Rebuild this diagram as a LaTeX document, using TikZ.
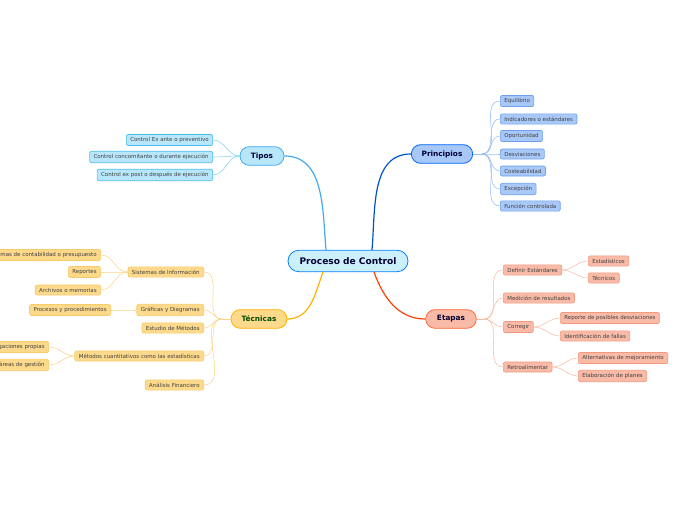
\documentclass[tikz,border=0pt]{standalone}
\usepackage{fontspec}
\setmainfont{DejaVu Sans}
\definecolor{cyF}{HTML}{B8E6FA}\definecolor{cyD}{HTML}{4CBDEB}
\definecolor{blF}{HTML}{A8C8F8}\definecolor{blD}{HTML}{6FA0EE}
\definecolor{ogF}{HTML}{F9BBA8}\definecolor{ogD}{HTML}{F39A7E}
\definecolor{yeF}{HTML}{FDD98C}\definecolor{yeD}{HTML}{F6CB6A}
\begin{document}
\begin{tikzpicture}[x=0.75pt,y=-0.75pt,
  base/.style={draw,rounded corners=1.5pt,line width=0.5pt,font=\fontsize{4.1}{4.6}\selectfont,inner xsep=3pt,inner ysep=2.2pt,text=black!75},
  main/.style={draw,rounded corners=8pt,line width=0.6pt,font=\fontsize{6.8}{8}\selectfont\bfseries,minimum height=16pt,text=black!80!blue},
  cy/.style={base,fill=cyF,draw=cyD},
  bl/.style={base,fill=blF,draw=blD},
  og/.style={base,fill=ogF,draw=ogD},
  ye/.style={base,fill=yeF,draw=yeD},
  lc/.style={cyD!70,line width=0.4pt},
  lb/.style={blD!70,line width=0.4pt},
  lo/.style={ogD!70,line width=0.4pt},
  ly/.style={yeD!80,line width=0.4pt}]
\useasboundingbox (0,0) rectangle (696,520);
\node[main,fill=cyan!20,draw=blue!50!cyan,minimum width=90pt] (c) at (348,261) {Proceso de Control};
\node[main,fill=cyF,draw=cyD!90!blue,minimum width=33pt,minimum height=14pt,rounded corners=7pt,font=\fontsize{5.5}{6}\selectfont\bfseries] (tip) at (262,156) {Tipos};
\node[main,fill=blF,draw=blue!60!cyan,minimum width=46pt,minimum height=14pt,rounded corners=7pt,font=\fontsize{5.5}{6}\selectfont\bfseries] (pri) at (442,154) {Principios};
\node[main,fill=ogF,draw=orange!50!red!80,minimum width=38pt,minimum height=14pt,rounded corners=7pt,font=\fontsize{5.5}{6}\selectfont\bfseries] (eta) at (451,319) {Etapas};
\node[main,fill=yeF,draw=orange!60!yellow,minimum width=42pt,minimum height=14pt,rounded corners=7pt,font=\fontsize{5.5}{6}\selectfont\bfseries,text=green!30!black] (tec) at (259,319) {Técnicas};
\draw[cyD!90!blue,line width=0.9pt] (c.north) ++(-22,0) coordinate (c1) (tip.east) to[out=0,in=95] (c1);
\draw[blue!60!cyan!80!black,line width=0.9pt] (c.north) ++(24,0) coordinate (c2) (c2) to[out=85,in=180] (pri.west);
\draw[orange!50!red,line width=0.9pt] (c.south) ++(26,0) coordinate (c3) (c3) to[out=-70,in=180] (eta.west);
\draw[orange!60!yellow,line width=0.9pt] (c.south) ++(-25,0) coordinate (c4) (c4) to[out=-110,in=0] (tec.east);
% Tipos
\node[cy,anchor=east] (t1) at (213,140) {Control Ex ante o preventivo};
\node[cy,anchor=east] (t2) at (213,157) {Control concomitante o durante ejecución};
\node[cy,anchor=east] (t3) at (213,175) {Control ex post o después de ejecución};
\foreach \n in {t1,t2,t3} \draw[lc] (tip.west) to[out=180,in=0] (\n.east);
% Principios
\coordinate (pj) at (482,154);
\draw[lb] (pri.east) -- (pj);
\node[bl,anchor=west] (p1) at (500,101) {Equilibrio};
\node[bl,anchor=west] (p2) at (500,119) {Indicadores o estándares};
\node[bl,anchor=west] (p3) at (500,136) {Oportunidad};
\node[bl,anchor=west] (p4) at (500,154) {Desviaciones};
\node[bl,anchor=west] (p5) at (500,171) {Costeabilidad};
\node[bl,anchor=west] (p6) at (500,189) {Excepción};
\node[bl,anchor=west] (p7) at (500,206) {Función controlada};
\foreach \n in {p1,p2,p3,p4,p5,p6,p7} \draw[lb] (pj) to[out=0,in=180] (\n.west);
% Etapas
\coordinate (ej) at (484,319);
\draw[lo] (eta.east) -- (ej);
\node[og,anchor=west] (e1) at (503,270) {Definir Estándares};
\node[og,anchor=west] (e2) at (503,298) {Medición de resultados};
\node[og,anchor=west] (e3) at (503,327) {Corregir};
\node[og,anchor=west] (e4) at (503,367) {Retroalimentar};
\foreach \n in {e1,e2,e3,e4} \draw[lo] (ej) to[out=0,in=180] (\n.west);
\node[og,anchor=west] (e11) at (588,261) {Estadísticos};
\node[og,anchor=west] (e12) at (588,278) {Técnicos};
\node[og,anchor=west] (e31) at (560,318) {Reporte de posibles desviaciones};
\node[og,anchor=west] (e32) at (560,336) {Identificación de fallas};
\node[og,anchor=west] (e41) at (578,358) {Alternativas de mejoramiento};
\node[og,anchor=west] (e42) at (578,376) {Elaboración de planes};
\foreach \a/\b in {e1/e11,e1/e12,e3/e31,e3/e32,e4/e41,e4/e42} \draw[lo] (\a.east) to[out=0,in=180] (\b.west);
% Tecnicas
\coordinate (tj) at (222,319);
\draw[ly] (tec.west) -- (tj);
\node[ye,anchor=east] (k1) at (204,272) {Sistemas de Información};
\node[ye,anchor=east] (k2) at (204,310) {Gráficas y Diagramas};
\node[ye,anchor=east] (k3) at (204,328) {Estudio de Métodos};
\node[ye,anchor=east] (k4) at (204,356) {Métodos cuantitativos como las estadísticas};
\node[ye,anchor=east] (k5) at (204,385) {Análisis Financiero};
\foreach \n in {k1,k2,k3,k4,k5} \draw[ly] (tj) to[out=180,in=0] (\n.east);
\node[ye,anchor=east] (k11) at (101,255) {Sistemas de contabilidad o presupuesto};
\node[ye,anchor=east] (k12) at (101,272) {Reportes};
\node[ye,anchor=east] (k13) at (101,290) {Archivos o memorias};
\node[ye,anchor=east] (k21) at (111,310) {Procesos y procedimientos};
\node[ye,anchor=east] (k41) at (49,347) {Investigaciones propias};
\node[ye,anchor=east] (k42) at (49,365) {Indicadores de áreas de gestión};
\foreach \a/\b in {k1/k11,k1/k12,k1/k13,k2/k21,k4/k41,k4/k42} \draw[ly] (\a.west) to[out=180,in=0] (\b.east);
\end{tikzpicture}
\end{document}
